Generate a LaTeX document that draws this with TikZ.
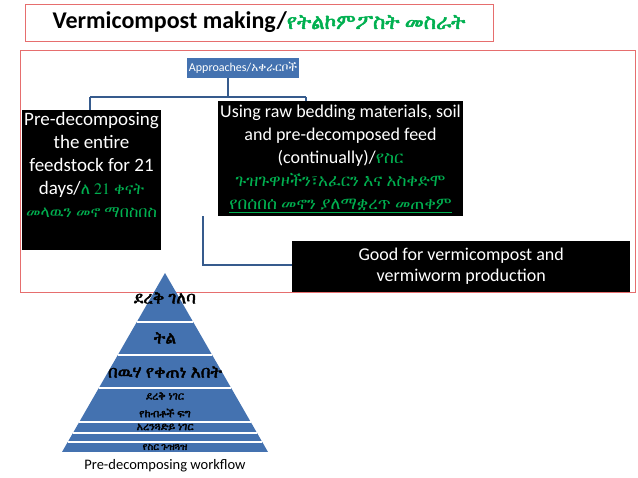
\documentclass[tikz,border=0pt]{standalone}
\usepackage{fontspec}
\setmainfont{Carlito}
\newfontfamily\eth[BoldFont=FreeSerif,BoldFeatures={FakeBold=2.5}]{FreeSerif}
\definecolor{gr}{RGB}{0,176,80}
\definecolor{pyr}{RGB}{68,114,176}
\definecolor{rb}{RGB}{230,110,110}
\begin{document}
\begin{tikzpicture}[x=1pt,y=-1pt,
  blk/.style={fill=black,text=white,align=center,inner sep=2pt},
  conn/.style={draw=pyr!80!black,line width=1.2pt},
  pt/.style={font=\eth\bfseries\fontsize{#1}{#1}\selectfont,text=black}]
\useasboundingbox (0,0) rectangle (638,478);
\draw[rb,line width=0.8pt] (25,4) rectangle (493,41);
\node (title) at (259,22.5) {\fontsize{24}{26}\selectfont\bfseries Vermicompost making/\textcolor{gr}{\eth\bfseries\fontsize{21}{26}\selectfont የትልኮምፖስት መስራት}};
\draw[rb,line width=0.8pt] (20,50) rectangle (635,292);
\node[fill=pyr,text=white,inner sep=2pt,minimum height=20pt] (appr) at (243,68) {\fontsize{12}{13}\selectfont Approaches/{\eth\fontsize{12}{13}\selectfont አቀራርቦች}};
\node[blk,minimum width=136pt,minimum height=122pt,anchor=north west,font=\fontsize{19}{23}\selectfont] (left) at (22,110) {Pre-decomposing\\the entire\\feedstock for 21\\days/\textcolor{gr}{\eth\fontsize{16}{23}\selectfont ለ 21 ቀናት}\\\textcolor{gr}{\eth\fontsize{16}{23}\selectfont መላዉን መኖ ማበስበስ}\\[8pt]};
\node[blk,minimum width=214pt,minimum height=115pt,anchor=north west,font=\fontsize{18}{23}\selectfont] (right) at (218,101) {Using raw bedding materials, soil\\and pre-decomposed feed\\(continually)/\textcolor{gr}{\eth\fontsize{17}{23}\selectfont የስር}\\\textcolor{gr}{\eth\fontsize{17}{23}\selectfont ጉዝጉዋዞችን፣አፈርን እና አስቀድሞ}\\\textcolor{gr}{\eth\fontsize{17}{23}\selectfont \underline{የበሰበሰ መኖን ያለማቋረጥ መጠቀም}}};
\node[blk,minimum width=338pt,minimum height=51pt,anchor=north west,font=\fontsize{18}{21}\selectfont] (good) at (292,241) {Good for vermicompost and\\vermiworm production};
\coordinate (j) at (228,97);
\draw[conn] (appr.south -| j) -- (j);
\draw[conn] (90,97) -- (306,97);
\draw[conn] (90,97) -- (90,110);
\draw[conn] (306,97) -- (306,101);
\coordinate (g) at (203,265);
\draw[conn] (right.south -| g) -- (g) -- (good.west |- g);
% pyramid
\coordinate (apex) at (165,273);
\fill[pyr] (apex) -- (268,452) -- (62,452) -- cycle;
\foreach \y in {322,355,388,422,433,442}{
  \pgfmathsetmacro\dx{(\y-273)/179*103}
  \draw[white,line width=1.5pt] (165-\dx,\y) -- (165+\dx,\y);}
\node[pt=17] (p1) at (165,298) {ደረቅ ገለባ};
\node[pt=17] (p2) at (165,338) {ትል};
\node[pt=17] (p3) at (165,372) {በዉሃ የቀጠነ እበት};
\node[pt=11] (p4) at (165,396) {ደረቅ ነገር};
\node[pt=11] (p5) at (165,413) {የከብቶች ፍግ};
\node[pt=11] (p6) at (165,427) {አረንጓድይ ነገር};
\node[pt=10] (p7) at (165,447) {የስር ጉዝጓዝ};
\node (cap) at (165,466) {\fontsize{14.5}{16}\selectfont Pre-decomposing workflow};
\end{tikzpicture}
\end{document}
